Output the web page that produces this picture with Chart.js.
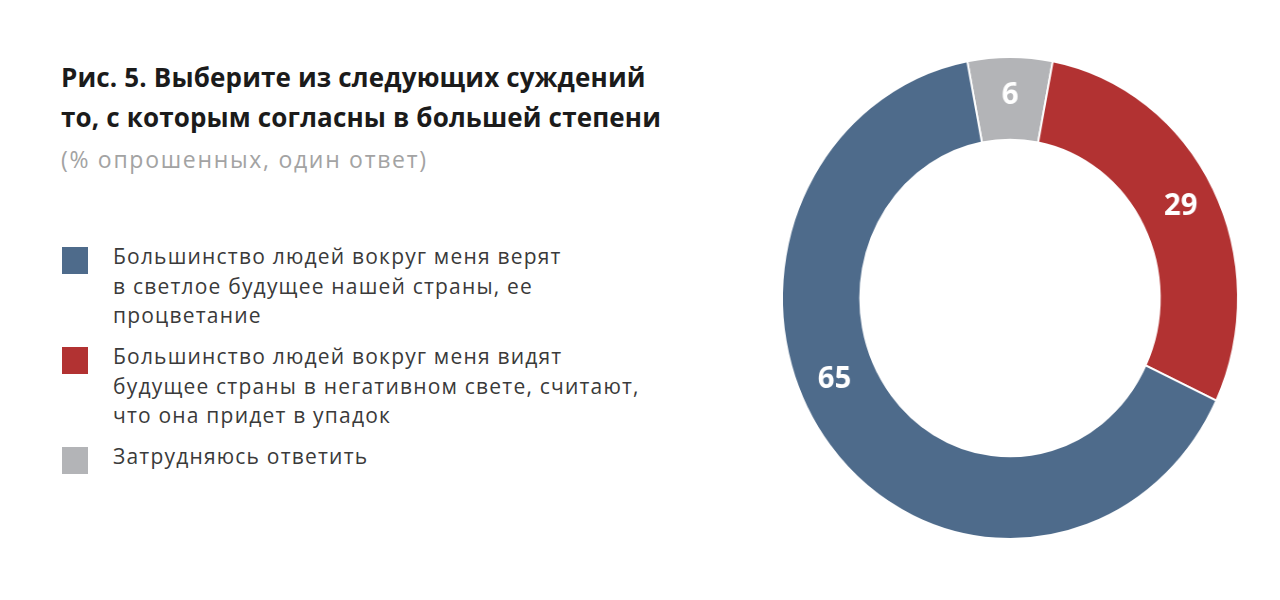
<!DOCTYPE html>
<html>
<head>
<meta charset="utf-8">
<script src="https://cdn.jsdelivr.net/npm/chart.js@4.4.1/dist/chart.umd.min.js"></script>
<style>
  body { margin: 0; width: 1280px; height: 600px; background: #fff; position: relative; overflow: hidden; font-family: "Open Sans", "Noto Sans", sans-serif; }
  #title { position: absolute; left: 61px; top: 57px; font-size: 26px; font-weight: 700; color: #1b1b1b; line-height: 40px; letter-spacing: 0.15px; }
  #sub { position: absolute; left: 61px; top: 144px; font-size: 23px; color: #a3a3a3; line-height: 30px; letter-spacing: 1.7px; }
  #legend { position: absolute; left: 62px; top: 242px; }
  .item { position: relative; padding-left: 51px; font-size: 21px; color: #3a3a3a; line-height: 29.5px; margin-bottom: 11.5px; letter-spacing: 1.2px; }
  .sw { position: absolute; left: 0; top: 5px; width: 26px; height: 27px; }
  #wrap { position: absolute; left: 759.5px; top: 47.5px; width: 500px; height: 500px; transform: scaleX(0.946); transform-origin: 50% 50%; }
</style>
</head>
<body>
<div id="title">Рис. 5. Выберите из следующих суждений<br>то, с которым согласны в большей степени</div>
<div id="sub">(% опрошенных, один ответ)</div>
<div id="legend"></div>
<div id="wrap"><canvas id="chart"></canvas></div>
<script>
// legend order (top to bottom)
const categories = [
  ['Большинство людей вокруг меня верят', 'в светлое будущее нашей страны, ее', 'процветание'],
  ['Большинство людей вокруг меня видят', 'будущее страны в негативном свете, считают,', 'что она придет в упадок'],
  ['Затрудняюсь ответить']
];
const values = [65, 29, 6];
const colors = ['#4e6b8b', '#b23232', '#b3b4b7'];

// html legend
const legend = document.querySelector('#legend');
categories.forEach((lines, i) => {
  const d = document.createElement('div');
  d.className = 'item';
  d.innerHTML = '<span class="sw" style="background:' + colors[i] + '"></span>' + lines.join('<br>');
  legend.appendChild(d);
});

// ring goes clockwise grey -> red -> blue, so feed it reversed
const order = [2, 1, 0];
// where along each slice the number sits (0.5 = middle)
const labelAt = [0.5, 0.5, 0.56];

const sliceLabels = {
  id: 'sliceLabels',
  afterDatasetsDraw(chart) {
    const ctx = chart.ctx;
    const meta = chart.getDatasetMeta(0);
    ctx.save();
    ctx.fillStyle = '#fff';
    ctx.font = 'bold 31px "Open Sans", "Noto Sans", sans-serif';
    ctx.textAlign = 'center';
    ctx.textBaseline = 'middle';
    meta.data.forEach((arc, i) => {
      const p = arc.getProps(['x', 'y', 'startAngle', 'endAngle', 'innerRadius', 'outerRadius'], true);
      const a = p.startAngle + (p.endAngle - p.startAngle) * labelAt[i];
      const r = (p.innerRadius + p.outerRadius) / 2 + 3;
      ctx.fillText(chart.data.datasets[0].data[i], p.x + Math.cos(a) * r, p.y + Math.sin(a) * r);
    });
    ctx.restore();
  }
};

const chart = document.querySelector('#chart').getContext('2d');

new Chart(chart, {
  type: 'doughnut',
  data: {
    labels: order.map(i => categories[i].join(' ')),
    datasets: [{
      data: order.map(i => values[i]),
      backgroundColor: order.map(i => colors[i]),
      borderColor: '#fff',
      borderWidth: 2
    }]
  },
  options: {
    responsive: true,
    maintainAspectRatio: false,
    animation: false,
    cutout: '65.7%',
    rotation: -10.8,
    layout: { padding: 8 },
    plugins: {
      legend: { display: false },
      tooltip: { enabled: false }
    }
  },
  plugins: [sliceLabels]
});
</script>
</body>
</html>
